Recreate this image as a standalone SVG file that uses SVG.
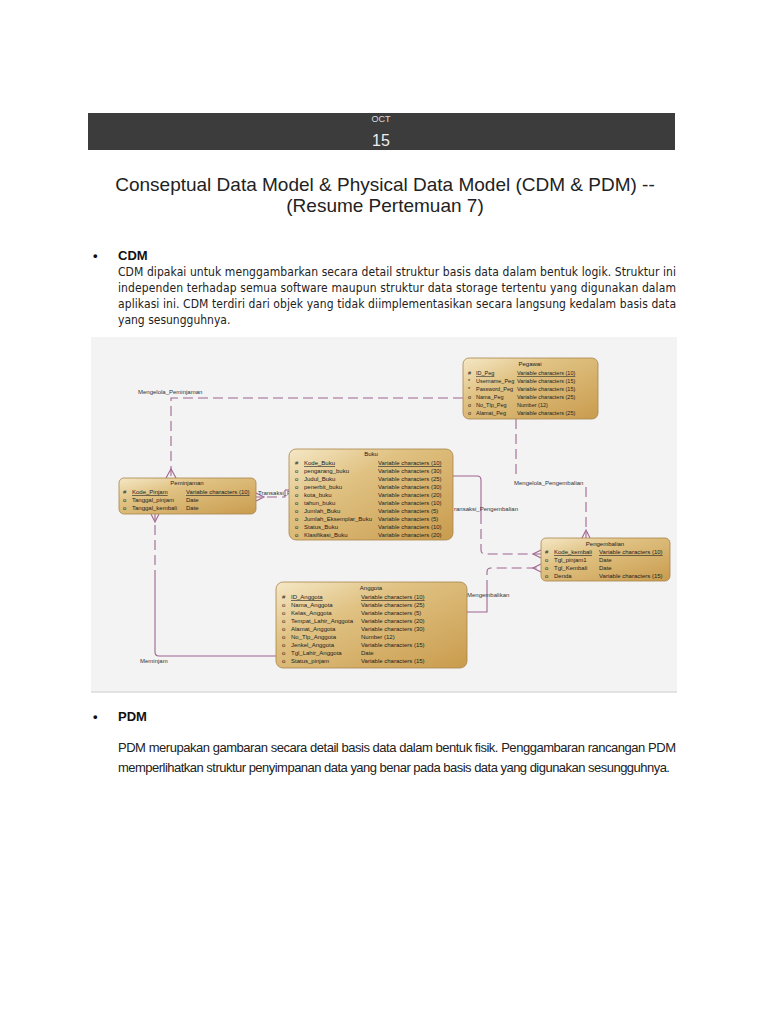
<svg xmlns="http://www.w3.org/2000/svg" width="768" height="1024" viewBox="0 0 768 1024">
<style>
.ttl{font-family:"Liberation Sans",Arial,sans-serif;font-size:19px;fill:#222;text-anchor:middle}
.body{font-family:"DejaVu Sans Condensed","DejaVu Sans",sans-serif;font-size:12px;fill:#222}
.pdm{font-family:"Liberation Sans",Arial,sans-serif;font-size:13px;fill:#222}
.bold{font-family:"Liberation Sans",Arial,sans-serif;font-size:13px;font-weight:bold;fill:#111}
.ent{fill:url(#gold);stroke:#a8844a;stroke-width:0.8}
.et{font-family:"Liberation Sans",Arial,sans-serif;font-size:6px;fill:#222}
.ps{font-size:5.5px}
.eh{font-family:"Liberation Sans",Arial,sans-serif;font-size:6px;fill:#222;text-anchor:middle}
.u{text-decoration:underline}
.lbl{font-family:"Liberation Sans",Arial,sans-serif;font-size:6px;fill:#333}
.c{fill:none;stroke:#a06590;stroke-width:1.1}
.d{stroke-dasharray:10 5}
</style>
<defs>
<linearGradient id="gold" x1="0" y1="0" x2="1" y2="1">
<stop offset="0" stop-color="#f5e8c6"/>
<stop offset="0.35" stop-color="#e0c283"/>
<stop offset="1" stop-color="#c99c4e"/>
</linearGradient>
</defs>
<rect width="768" height="1024" fill="#ffffff"/>
<g id="header">
<rect x="88" y="113" width="587" height="37" fill="#3c3c3c"/>
<text x="381" y="122" font-family="Liberation Sans,Arial,sans-serif" font-size="9" fill="#dddddd" text-anchor="middle">OCT</text>
<text x="381" y="146" font-family="Liberation Sans,Arial,sans-serif" font-size="16" fill="#eeeeee" text-anchor="middle">15</text>
</g>
<g id="title">
<text class="ttl" x="385" y="191">Conseptual Data Model &amp; Physical Data Model (CDM &amp; PDM) --</text>
<text class="ttl" x="385" y="212">(Resume Pertemuan 7)</text>
</g>
<g id="cdm-text">
<text class="bold" x="93" y="260">•</text>
<text class="bold" x="118" y="260">CDM</text>
<text class="body" x="118" y="276" textLength="558" lengthAdjust="spacing">CDM dipakai untuk menggambarkan secara detail struktur basis data dalam bentuk logik. Struktur ini</text>
<text class="body" x="118" y="292" textLength="558" lengthAdjust="spacing">independen terhadap semua software maupun struktur data storage tertentu yang digunakan dalam</text>
<text class="body" x="118" y="308" textLength="558" lengthAdjust="spacing">aplikasi ini. CDM terdiri dari objek yang tidak diimplementasikan secara langsung kedalam basis data</text>
<text class="body" x="118" y="324">yang sesungguhnya.</text>
</g>
<g id="panel">
<rect x="91" y="337" width="586" height="355" fill="#f3f3f3"/>
<line x1="91" y1="692" x2="677" y2="692" stroke="#cccccc" stroke-width="1"/>
</g>
<g id="connectors">
<path class="c d" d="M463,398 H171 V478"/>
<path class="c" d="M166,478 L171,469 L176,478"/>
<text class="lbl" x="138" y="394">Mengelola_Peminjaman</text>
<path class="c d" d="M516,419 V478"/>
<path class="c d" d="M586,487 V538"/>
<path class="c" d="M582,538 L586,530 L590,538"/>
<text class="lbl" x="514" y="485">Mengelola_Pengembalian</text>
<path class="c" d="M289,490 H285"/>
<path class="c d" d="M285,490 V497 H256"/>
<path class="c" d="M256,493 L264,497 L256,501"/>
<text class="lbl" x="258" y="495">Transaksi_P</text>
<path class="c" d="M453,476 H477 Q481,476 481,480 V514"/>
<path class="c d" d="M481,514 V550 Q481,554 485,554 H541"/>
<path class="c" d="M541,550 L533,554 L541,558"/>
<text class="lbl" x="454" y="511">ransaksi_Pengembalian</text>
<path class="c" d="M467,612 H487 V590"/>
<path class="c d" d="M487,590 V572 Q487,568 491,568 H541"/>
<path class="c" d="M541,564 L533,568 L541,572"/>
<text class="lbl" x="467" y="597">Mengembalikan</text>
<path class="c" d="M276,656 H159 Q155,656 155,652 V580"/>
<path class="c d" d="M155,580 V514"/>
<path class="c" d="M151,514 L155,522 L159,514"/>
<text class="lbl" x="140" y="663">Meminjam</text>
</g>
<g id="pegawai">
<rect class="ent" x="463" y="358" width="135" height="61" rx="6"/>
<text class="eh" x="530" y="366">Pegawai</text>
<text class="et ps" x="468" y="375">#</text><text class="et ps u" x="476" y="375">ID_Peg</text><text class="et ps u" x="517" y="375">Variable characters (10)</text>
<text class="et ps" x="468" y="383">*</text><text class="et ps" x="476" y="383">Username_Peg</text><text class="et ps" x="517" y="383">Variable characters (15)</text>
<text class="et ps" x="468" y="391">*</text><text class="et ps" x="476" y="391">Password_Peg</text><text class="et ps" x="517" y="391">Variable characters (15)</text>
<text class="et ps" x="468" y="399">o</text><text class="et ps" x="476" y="399">Nama_Peg</text><text class="et ps" x="517" y="399">Variable characters (25)</text>
<text class="et ps" x="468" y="407">o</text><text class="et ps" x="476" y="407">No_Tlp_Peg</text><text class="et ps" x="517" y="407">Number (12)</text>
<text class="et ps" x="468" y="415">o</text><text class="et ps" x="476" y="415">Alamat_Peg</text><text class="et ps" x="517" y="415">Variable characters (25)</text>
</g>
<g id="buku">
<rect class="ent" x="289" y="449" width="164" height="91" rx="7"/>
<text class="eh" x="371" y="456">Buku</text>
<text class="et" x="295" y="465">#</text><text class="et u" x="304" y="465">Kode_Buku</text><text class="et u" x="378" y="465">Variable characters (10)</text>
<text class="et" x="295" y="473">o</text><text class="et" x="304" y="473">pengarang_buku</text><text class="et" x="378" y="473">Variable characters (30)</text>
<text class="et" x="295" y="481">o</text><text class="et" x="304" y="481">Judul_Buku</text><text class="et" x="378" y="481">Variable characters (25)</text>
<text class="et" x="295" y="489">o</text><text class="et" x="304" y="489">penerbit_buku</text><text class="et" x="378" y="489">Variable characters (30)</text>
<text class="et" x="295" y="497">o</text><text class="et" x="304" y="497">kota_buku</text><text class="et" x="378" y="497">Variable characters (20)</text>
<text class="et" x="295" y="505">o</text><text class="et" x="304" y="505">tahun_buku</text><text class="et" x="378" y="505">Variable characters (10)</text>
<text class="et" x="295" y="513">o</text><text class="et" x="304" y="513">Jumlah_Buku</text><text class="et" x="378" y="513">Variable characters (5)</text>
<text class="et" x="295" y="521">o</text><text class="et" x="304" y="521">Jumlah_Eksemplar_Buku</text><text class="et" x="378" y="521">Variable characters (5)</text>
<text class="et" x="295" y="529">o</text><text class="et" x="304" y="529">Status_Buku</text><text class="et" x="378" y="529">Variable characters (10)</text>
<text class="et" x="295" y="537">o</text><text class="et" x="304" y="537">Klasifikasi_Buku</text><text class="et" x="378" y="537">Variable characters (20)</text>
</g>
<g id="peminjaman">
<rect class="ent" x="119" y="478" width="137" height="36" rx="5"/>
<text class="eh" x="187" y="485">Peminjaman</text>
<text class="et" x="123" y="494">#</text><text class="et u" x="132" y="494">Kode_Pinjam</text><text class="et u" x="186" y="494">Variable characters (10)</text>
<text class="et" x="123" y="502">o</text><text class="et" x="132" y="502">Tanggal_pinjam</text><text class="et" x="186" y="502">Date</text>
<text class="et" x="123" y="510">o</text><text class="et" x="132" y="510">Tanggal_kembali</text><text class="et" x="186" y="510">Date</text>
</g>
<g id="pengembalian">
<rect class="ent" x="541" y="538" width="129" height="43" rx="5"/>
<text class="eh" x="605" y="546">Pengembalian</text>
<text class="et" x="545" y="554">#</text><text class="et u" x="554" y="554">Kode_kembali</text><text class="et u" x="599" y="554">Variable characters (10)</text>
<text class="et" x="545" y="562">o</text><text class="et" x="554" y="562">Tgl_pinjam1</text><text class="et" x="599" y="562">Date</text>
<text class="et" x="545" y="570">o</text><text class="et" x="554" y="570">Tgl_Kembali</text><text class="et" x="599" y="570">Date</text>
<text class="et" x="545" y="578">o</text><text class="et" x="554" y="578">Denda</text><text class="et" x="599" y="578">Variable characters (15)</text>
</g>
<g id="anggota">
<rect class="ent" x="276" y="582" width="191" height="86" rx="7"/>
<text class="eh" x="371" y="590">Anggota</text>
<text class="et" x="282" y="599">#</text><text class="et u" x="291" y="599">ID_Anggota</text><text class="et u" x="361" y="599">Variable characters (10)</text>
<text class="et" x="282" y="607">o</text><text class="et" x="291" y="607">Nama_Anggota</text><text class="et" x="361" y="607">Variable characters (25)</text>
<text class="et" x="282" y="615">o</text><text class="et" x="291" y="615">Kelas_Anggota</text><text class="et" x="361" y="615">Variable characters (5)</text>
<text class="et" x="282" y="623">o</text><text class="et" x="291" y="623">Tempat_Lahir_Anggota</text><text class="et" x="361" y="623">Variable characters (20)</text>
<text class="et" x="282" y="631">o</text><text class="et" x="291" y="631">Alamat_Anggota</text><text class="et" x="361" y="631">Variable characters (30)</text>
<text class="et" x="282" y="639">o</text><text class="et" x="291" y="639">No_Tlp_Anggota</text><text class="et" x="361" y="639">Number (12)</text>
<text class="et" x="282" y="647">o</text><text class="et" x="291" y="647">Jenkel_Anggota</text><text class="et" x="361" y="647">Variable characters (15)</text>
<text class="et" x="282" y="655">o</text><text class="et" x="291" y="655">Tgl_Lahir_Anggota</text><text class="et" x="361" y="655">Date</text>
<text class="et" x="282" y="663">o</text><text class="et" x="291" y="663">Status_pinjam</text><text class="et" x="361" y="663">Variable characters (15)</text>
</g>
<g id="pdm-text">
<text class="bold" x="93" y="721">•</text>
<text class="bold" x="118" y="721">PDM</text>
<text class="pdm" x="118" y="752" textLength="558" lengthAdjust="spacing">PDM merupakan gambaran secara detail basis data dalam bentuk fisik. Penggambaran rancangan PDM</text>
<text class="pdm" x="118" y="772" textLength="552" lengthAdjust="spacing">memperlihatkan struktur penyimpanan data yang benar pada basis data yang digunakan sesungguhnya.</text>
</g>
</svg>
